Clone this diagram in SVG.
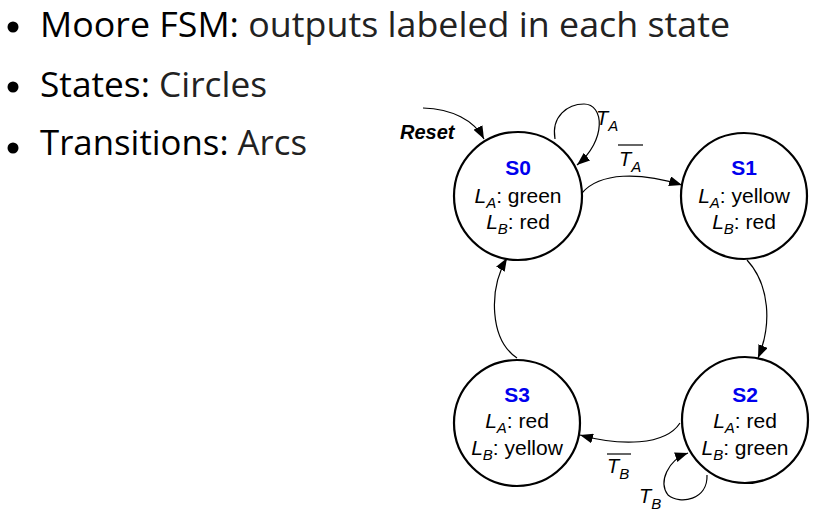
<svg xmlns="http://www.w3.org/2000/svg" width="833" height="520" viewBox="0 0 833 520">
<style>
.b{font-family:"Open Sans","Noto Sans",sans-serif;font-size:34px;fill:#000}
.lt{fill:#222}
.st{fill:#fff;stroke:#000;stroke-width:2.2}
.nm{font-family:"Liberation Sans",Arial,sans-serif;font-size:21px;font-weight:bold;fill:#0000ee;text-anchor:middle}
.tx{font-family:"Liberation Sans",Arial,sans-serif;font-size:21px;fill:#000;text-anchor:middle}
.lb{font-family:"Liberation Sans",Arial,sans-serif;font-size:20px;fill:#000;font-style:italic}
.i{font-style:italic}
.sb{font-size:15px;font-style:italic}
.c{fill:none;stroke:#000;stroke-width:1.2}
</style>
<defs>
<marker id="ah" viewBox="0 0 13 10" refX="13" refY="5" markerWidth="13" markerHeight="10" markerUnits="userSpaceOnUse" orient="auto">
<path d="M0,0 L13,5 L0,10 z" fill="#000"/>
</marker>
</defs>
<g id="bullets">
<circle cx="13" cy="27" r="5.5" fill="#000"/>
<circle cx="13" cy="87" r="5.5" fill="#000"/>
<circle cx="13" cy="148" r="5.5" fill="#000"/>
<text class="b" x="40" y="37" textLength="690" lengthAdjust="spacingAndGlyphs">Moore FSM:<tspan class="lt"> outputs labeled in each state</tspan></text>
<text class="b" x="40" y="97" textLength="227" lengthAdjust="spacingAndGlyphs">States:<tspan class="lt"> Circles</tspan></text>
<text class="b" x="40" y="155" textLength="267" lengthAdjust="spacingAndGlyphs">Transitions:<tspan class="lt"> Arcs</tspan></text>
</g>
<g id="connectors">
<path class="c" d="M423,108 C452,109 474,120 484,139" marker-end="url(#ah)"/>
<path class="c" d="M555,139 C551,116 568,104 584,104 C604,104 607,140 577,165" marker-end="url(#ah)"/>
<path class="c" d="M582,193 C600,172 640,172 682,185" marker-end="url(#ah)"/>
<path class="c" d="M747,260 C770,285 772,325 758,358" marker-end="url(#ah)"/>
<path class="c" d="M680,423 C665,446 620,446 580,435" marker-end="url(#ah)"/>
<path class="c" d="M707,475 C708,500 680,505 668,495 C658,482 668,460 688,453" marker-end="url(#ah)"/>
<path class="c" d="M517,358 C490,340 488,290 507,258" marker-end="url(#ah)"/>
</g>
<g id="labels">
<text class="lb" x="400" y="139" font-weight="bold" font-size="20">Reset</text>
<text class="lb" x="596" y="125">T<tspan class="sb" dy="6">A</tspan></text>
<line x1="618" y1="145" x2="643" y2="145" stroke="#000" stroke-width="1.2"/>
<text class="lb" x="619" y="166">T<tspan class="sb" dy="6">A</tspan></text>
<line x1="607" y1="454" x2="631" y2="454" stroke="#000" stroke-width="1.2"/>
<text class="lb" x="607" y="473">T<tspan class="sb" dy="6">B</tspan></text>
<text class="lb" x="639" y="503">T<tspan class="sb" dy="6">B</tspan></text>
</g>
<g id="S0">
<circle class="st" cx="518" cy="196" r="64"/>
<text class="nm" x="518" y="175">S0</text>
<text class="tx" x="518" y="203"><tspan class="i">L</tspan><tspan class="sb" dy="5">A</tspan><tspan dy="-5">: green</tspan></text>
<text class="tx" x="518" y="229"><tspan class="i">L</tspan><tspan class="sb" dy="5">B</tspan><tspan dy="-5">: red</tspan></text>
</g>
<g id="S1">
<circle class="st" cx="744" cy="196" r="63"/>
<text class="nm" x="744" y="175">S1</text>
<text class="tx" x="744" y="203"><tspan class="i">L</tspan><tspan class="sb" dy="5">A</tspan><tspan dy="-5">: yellow</tspan></text>
<text class="tx" x="744" y="229"><tspan class="i">L</tspan><tspan class="sb" dy="5">B</tspan><tspan dy="-5">: red</tspan></text>
</g>
<g id="S2">
<circle class="st" cx="745" cy="420" r="63"/>
<text class="nm" x="745" y="402">S2</text>
<text class="tx" x="745" y="428"><tspan class="i">L</tspan><tspan class="sb" dy="5">A</tspan><tspan dy="-5">: red</tspan></text>
<text class="tx" x="745" y="455"><tspan class="i">L</tspan><tspan class="sb" dy="5">B</tspan><tspan dy="-5">: green</tspan></text>
</g>
<g id="S3">
<circle class="st" cx="517" cy="423" r="63"/>
<text class="nm" x="517" y="402">S3</text>
<text class="tx" x="517" y="428"><tspan class="i">L</tspan><tspan class="sb" dy="5">A</tspan><tspan dy="-5">: red</tspan></text>
<text class="tx" x="517" y="455"><tspan class="i">L</tspan><tspan class="sb" dy="5">B</tspan><tspan dy="-5">: yellow</tspan></text>
</g>
</svg>
